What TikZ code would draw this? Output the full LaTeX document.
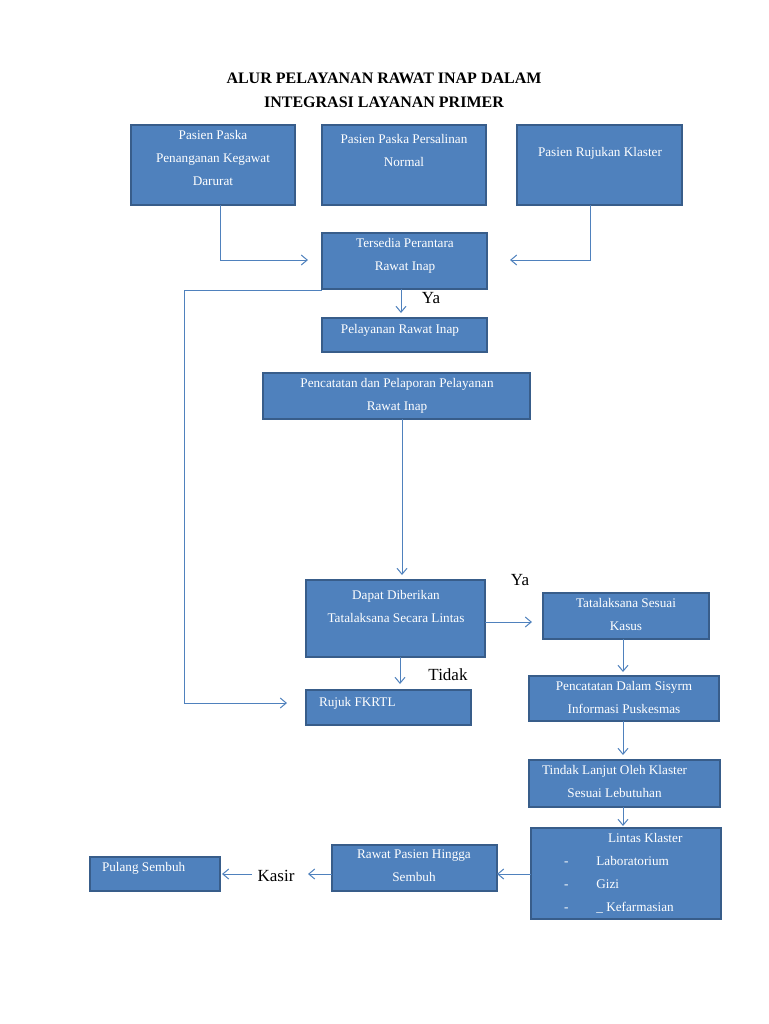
\documentclass[tikz,border=0pt]{standalone}
\usepackage{fontspec}
\setmainfont{Liberation Serif}
\usetikzlibrary{arrows.meta}
\definecolor{bx}{HTML}{4F81BD}
\definecolor{bd}{HTML}{385D8A}
\begin{document}
\begin{tikzpicture}[x=0.5pt,y=-0.5pt,
 box/.style={draw=bd,line width=1pt,fill=bx,text=white,font=\fontsize{6.6}{11.5}\selectfont,align=center,inner sep=0pt},
 ln/.style={draw=bx,line width=0.5pt},
 ar/.style={ln,-{Straight Barb[length=3pt,width=5pt]}},
 lab/.style={font=\fontsize{8.5}{10}\selectfont}]
\useasboundingbox (0,0) rectangle (768,1024);
\node[font=\bfseries\fontsize{8}{12}\selectfont,align=center] (t) at (384,90) {ALUR PELAYANAN RAWAT INAP DALAM\\INTEGRASI LAYANAN PRIMER};
\newcommand{\bx}[6]{\draw[box] (#2,#3) rectangle (#4,#5); \node[box,draw=none,fill=none] (#1) at ({(#2+#4)/2},{(#3+#5)/2}) {#6};}
\draw[box] (131,125) rectangle (295,205); \node[box,draw=none,fill=none,anchor=north] (A) at (213,129) {Pasien Paska\\Penanganan Kegawat\\Darurat};
\draw[box] (322,125) rectangle (486,205); \node[box,draw=none,fill=none,anchor=north] (B) at (404,133) {Pasien Paska Persalinan\\Normal};
\draw[box] (517,125) rectangle (682,205); \node[box,draw=none,fill=none,anchor=north] (C) at (600,146) {Pasien Rujukan Klaster};
\draw[box] (322,233) rectangle (487,289); \node[box,draw=none,fill=none,anchor=north] (D) at (405,237) {Tersedia Perantara\\Rawat Inap};
\draw[box] (322,318) rectangle (487,352); \node[box,draw=none,fill=none,anchor=north] (E) at (400,323) {Pelayanan Rawat Inap};
\draw[box] (263,373) rectangle (530,419); \node[box,draw=none,fill=none,anchor=north] (F) at (397,377) {Pencatatan dan Pelaporan Pelayanan\\Rawat Inap};
\draw[box] (306,580) rectangle (485,657); \node[box,draw=none,fill=none,anchor=north] (G) at (396,589) {Dapat Diberikan\\Tatalaksana Secara Lintas};
\draw[box] (543,593) rectangle (709,639); \node[box,draw=none,fill=none,anchor=north] (H) at (626,597) {Tatalaksana Sesuai\\Kasus};
\draw[box] (306,690) rectangle (471,725); \node[box,draw=none,fill=none,anchor=north west] (I) at (318,696) {Rujuk FKRTL};
\draw[box] (529,676) rectangle (719,721); \node[box,draw=none,fill=none,anchor=north] (J) at (624,680) {Pencatatan Dalam Sisyrm\\Informasi Puskesmas};
\draw[box] (529,760) rectangle (720,807); \node[box,draw=none,fill=none,anchor=north west] (K) at (541,764) {Tindak Lanjut Oleh Klaster\\Sesuai Lebutuhan};
\draw[box] (531,828) rectangle (721,919); \node[box,draw=none,fill=none,anchor=north west,align=left] (L) at (563,832) {\hspace*{22pt}Lintas Klaster\\-\hspace{14pt}Laboratorium\\-\hspace{14pt}Gizi\\-\hspace{14pt}\_ Kefarmasian};
\draw[box] (332,845) rectangle (497,891); \node[box,draw=none,fill=none,anchor=north] (M) at (414,849) {Rawat Pasien Hingga\\Sembuh};
\draw[box] (90,857) rectangle (220,891); \node[box,draw=none,fill=none,anchor=north west] (N) at (101,861) {Pulang Sembuh};
\coordinate (a1) at (220,205); \coordinate (a2) at (220,260); \coordinate (a3) at (308,260);
\draw[ar] (a1)--(a2)--(a3);
\coordinate (c1) at (590,205); \coordinate (c2) at (590,260); \coordinate (c3) at (510,260);
\draw[ar] (c1)--(c2)--(c3);
\coordinate (d1) at (322,290); \coordinate (d2) at (184,290); \coordinate (d3) at (184,703); \coordinate (d4) at (287,703);
\draw[ln] (d1)--(d2)--(d3); \draw[ar] (184,703)--(d4);
\draw[ar] (401,289)--(401,313);
\node[lab] (ya1) at (431,298) {Ya};
\draw[ar] (402,419)--(402,575);
\draw[ar] (485,622)--(532,622);
\node[lab] (ya2) at (520,580) {Ya};
\draw[ar] (400,657)--(400,684);
\node[lab] (td) at (448,675) {Tidak};
\draw[ar] (623,639)--(623,672);
\draw[ar] (623,721)--(623,755);
\draw[ar] (623,807)--(623,826);
\draw[ar] (531,874)--(497,874);
\draw[ar] (332,874)--(308,874);
\node[lab] (ks) at (276,876) {Kasir};
\draw[ar] (252,874)--(222,874);
\end{tikzpicture}
\end{document}
